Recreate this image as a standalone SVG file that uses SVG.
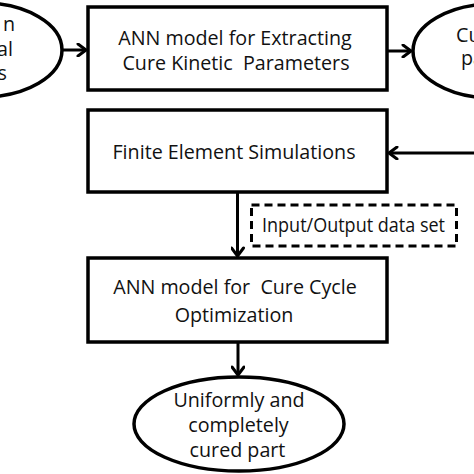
<svg xmlns="http://www.w3.org/2000/svg" width="474" height="474" viewBox="0 0 474 474">
  <style>
    .box { fill: #ffffff; stroke: #000000; stroke-width: 3.5; }
    .ell { fill: #ffffff; stroke: #000000; stroke-width: 3.5; }
    .dash { fill: none; stroke: #000000; stroke-width: 3; stroke-dasharray: 8 5; }
    .line { fill: none; stroke: #000000; stroke-width: 3; }
    .t { font-family: "Open Sans", "Liberation Sans", sans-serif; font-size: 19.7px; fill: #111111; text-anchor: middle; }
  </style>
  <defs>
    <marker id="arr" viewBox="0 0 12 14" refX="10" refY="7" markerWidth="12" markerHeight="14" markerUnits="userSpaceOnUse" orient="auto">
      <path d="M2,1 L10,7 L2,13" fill="none" stroke="#000000" stroke-width="3" stroke-linecap="round" stroke-linejoin="round"/>
    </marker>
  </defs>
  <rect width="474" height="474" fill="#ffffff"/>

  <g id="connectors">
    <line class="line" x1="62" y1="50" x2="86" y2="50" marker-end="url(#arr)"/>
    <line class="line" x1="387" y1="51" x2="411" y2="51" marker-end="url(#arr)"/>
    <line class="line" x1="476" y1="153" x2="389" y2="153" marker-end="url(#arr)"/>
    <line class="line" x1="237.5" y1="192" x2="237.5" y2="256" marker-end="url(#arr)"/>
    <line class="line" x1="238" y1="342" x2="238" y2="375" marker-end="url(#arr)"/>
  </g>

  <g id="input-ellipse">
    <ellipse class="ell" cx="-18" cy="50" rx="80" ry="47"/>
    <text class="t" x="15" y="31" style="text-anchor:end">n</text>
    <text class="t" x="13" y="56" style="text-anchor:end">al</text>
    <text class="t" x="7" y="80" style="text-anchor:end">s</text>
  </g>

  <g id="ann-kinetic">
    <rect class="box" x="88" y="7" width="299" height="83"/>
    <text class="t" x="235" y="45">ANN model for Extracting</text>
    <text class="t" x="236" y="70" xml:space="preserve">Cure Kinetic  Parameters</text>
  </g>

  <g id="output-ellipse">
    <ellipse class="ell" cx="493" cy="51" rx="80" ry="47"/>
    <text class="t" x="456" y="42" style="text-anchor:start">Cu</text>
    <text class="t" x="461" y="65" style="text-anchor:start">pa</text>
  </g>

  <g id="fe-sim">
    <rect class="box" x="88" y="110" width="299" height="82"/>
    <text class="t" x="234" y="159">Finite Element Simulations</text>
  </g>

  <g id="io-data">
    <rect class="dash" x="251.5" y="205" width="205" height="41"/>
    <text class="t" x="262" y="232" style="text-anchor:start" textLength="183" lengthAdjust="spacingAndGlyphs">Input/Output data set</text>
  </g>

  <g id="ann-cycle">
    <rect class="box" x="88" y="258" width="299" height="84"/>
    <text class="t" x="235" y="294" xml:space="preserve">ANN model for  Cure Cycle</text>
    <text class="t" x="234" y="322">Optimization</text>
  </g>

  <g id="cured-part">
    <ellipse class="ell" cx="239" cy="424" rx="105" ry="47"/>
    <text class="t" x="239" y="407">Uniformly and</text>
    <text class="t" x="238.5" y="432">completely</text>
    <text class="t" x="237.5" y="457">cured part</text>
  </g>
</svg>
